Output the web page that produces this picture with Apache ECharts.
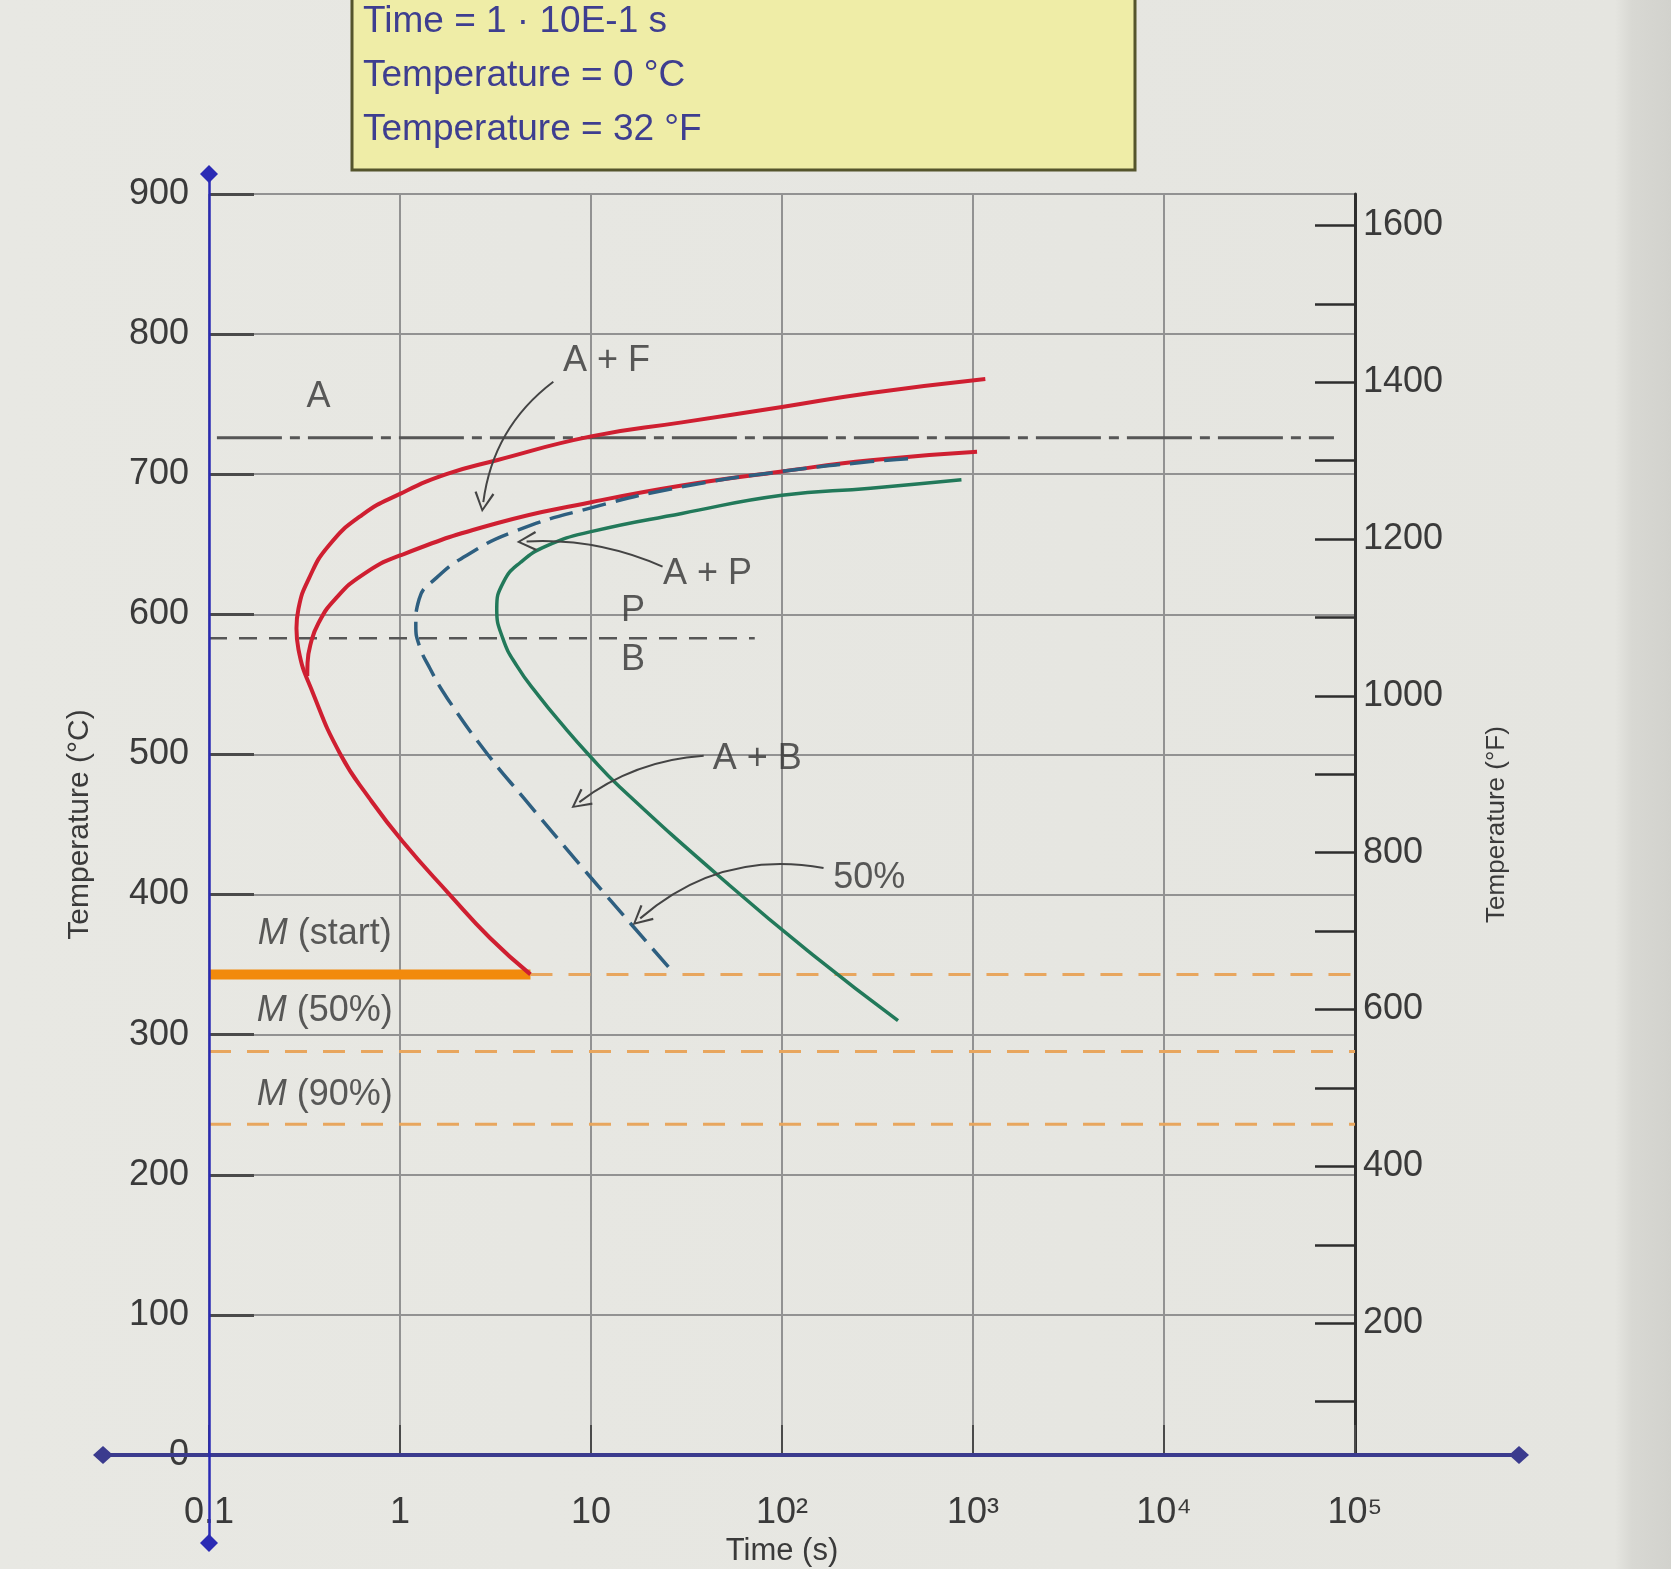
<!DOCTYPE html>
<html>
<head>
<meta charset="utf-8">
<title>TTT diagram</title>
<script src="https://cdn.jsdelivr.net/npm/echarts@6.0.0/dist/echarts.min.js"></script>
<style>
  html, body { margin: 0; padding: 0; }
  body { background: linear-gradient(to right, #e8e8e3 0, #e5e5e0 1615px, #d8d8d3 1632px, #d2d2cd 1671px); }
  #ttt { width: 1671px; height: 1569px; }
</style>
</head>
<body>
<div id="ttt"></div>
<script>
// axes
var timeTicks = [0.1, 1, 10, 100, 1000, 10000, 100000];
var timeTickLabels = ['0.1', '1', '10', '10²', '10³', '10⁴', '10⁵'];
var tempFTicks = [100, 200, 300, 400, 500, 600, 700, 800, 900, 1000, 1100, 1200, 1300, 1400, 1500, 1600];
var tempFLabels = [200, 400, 600, 800, 1000, 1200, 1400, 1600];

// curves: [time (s), temperature (°C)]
var ferriteStart = [[1160, 768], [291, 758], [100, 748], [29.9, 737], [10, 727], [3.21, 710], [1.75, 700],
  [1.0, 686], [0.634, 671], [0.423, 649], [0.332, 625], [0.294, 604], [0.287, 590], [0.294, 575],
  [0.352, 543], [0.488, 500], [0.689, 469], [1.03, 438], [1.82, 400], [2.96, 369], [4.82, 343]];
var ferriteEnd = [[1050, 716], [291, 710], [100, 702], [29.9, 692], [10, 680], [3.21, 665], [1.0, 642],
  [0.634, 628], [0.459, 611], [0.375, 594], [0.339, 578], [0.328, 565], [0.327, 556]];
var pearlite50 = [[457, 711], [291, 709], [100, 702], [29.9, 691], [10, 676], [3.94, 659], [2.23, 642],
  [1.55, 626], [1.26, 611], [1.21, 592], [1.26, 578], [1.44, 561], [1.77, 540], [2.88, 500],
  [4.44, 469], [10, 412], [16.2, 379], [27.5, 343]];
var transformEnd = [[870, 696], [291, 690], [100, 685], [29.9, 672], [10, 659], [5.9, 649], [4.27, 637],
  [3.48, 623], [3.21, 604], [3.45, 583], [4.1, 563], [5.31, 542], [7.2, 520], [9.7, 500], [14.1, 477],
  [52.7, 407], [145, 357], [405, 310]];

// horizontal lines (°C)
var msTemp = 343, m50Temp = 288, m90Temp = 236;
var a1Temp = 726, a1Span = [0.11, 77600];
var pbTemp = 583, pbEnd = 72;

// region labels
var regionNames = ['A', 'A + F', 'A + P', 'P', 'B', 'A + B', '50%', 'M (start)', 'M (50%)', 'M (90%)'];
var regionTimes = [0.374, 12.05, 40.7, 16.6, 16.6, 74.3, 286, 0.404, 0.404, 0.404];
var regionTemps = [755, 781, 629, 602, 567, 497, 412, 372, 317, 257];

// pointer arrows: from label to region
var arrowFrom = [[6.35, 766], [23.7, 634], [38.9, 499], [165, 419]];
var arrowTo = [[2.73, 680], [4.6, 652], [8.69, 466], [18.1, 383]];
var arrowBend = [-0.21, -0.12, -0.15, -0.24];

var FONT = '"Liberation Sans", Arial, sans-serif';
var TXT = '#3a3a3a';

var chart = echarts.init(document.getElementById('ttt'));

var tMin = timeTicks[0], tMax = timeTicks[timeTicks.length - 1];
var msEndT = ferriteStart[ferriteStart.length - 1][0];

function curve(name, data, color, width, type) {
  return {
    name: name, type: 'line', data: data, smooth: 0.5, showSymbol: false, symbol: 'none',
    xAxisIndex: 0, yAxisIndex: 0,
    lineStyle: { color: color, width: width, type: type || 'solid' }, z: 3
  };
}
function hline(t0, t1, temp, color, width, type) {
  return {
    type: 'line', data: [[t0, temp], [t1, temp]], showSymbol: false, symbol: 'none',
    xAxisIndex: 0, yAxisIndex: 0,
    lineStyle: { color: color, width: width, type: type, cap: 'butt' }, z: 2
  };
}

var option = {
  animation: false,
  backgroundColor: 'transparent',
  textStyle: { fontFamily: FONT },
  grid: [
    { left: 209, right: 316, top: 194, bottom: 114, outerBoundsMode: 'none' },
    { left: 103, right: 152, top: 194, bottom: 114, outerBoundsMode: 'none' },
    { left: 209, width: 20, top: 174, bottom: 26, outerBoundsMode: 'none' }
  ],
  xAxis: [
    {
      gridIndex: 0, type: 'log', logBase: 10, min: tMin, max: tMax,
      axisLine: { show: false },
      axisTick: { show: true, inside: true, length: 30, lineStyle: { color: '#4a4a4a', width: 2 } },
      splitLine: { show: true, lineStyle: { color: '#929292', width: 2 } },
      axisLabel: {
        fontSize: 36, color: TXT, margin: 40, fontFamily: FONT,
        formatter: function (v) {
          var i = Math.round(Math.log(v) / Math.LN10) + 1;
          return timeTickLabels[i] || '';
        }
      },
      name: 'Time (s)', nameLocation: 'middle', nameGap: 81, nameMoveOverlap: false,
      nameTextStyle: { fontSize: 31, color: TXT, fontFamily: FONT }
    },
    {
      gridIndex: 1, type: 'value', min: 0, max: 1, z: 4,
      axisLine: { show: true, onZero: false, symbol: ['diamond', 'diamond'], symbolSize: [18, 20],
        lineStyle: { color: '#3b3b8e', width: 4 } },
      axisTick: { show: false }, axisLabel: { show: false }, splitLine: { show: false }
    },
    { gridIndex: 2, type: 'value', min: 0, max: 1, show: false }
  ],
  yAxis: [
    {
      gridIndex: 0, type: 'value', min: 0, max: 900, interval: 100,
      axisLine: { show: false },
      axisTick: { show: true, inside: true, length: 45, lineStyle: { color: '#4a4a4a', width: 3 } },
      splitLine: { show: true, lineStyle: { color: '#929292', width: 2 } },
      axisLabel: { fontSize: 36, color: TXT, margin: 20, fontFamily: FONT },
      name: 'Temperature (°C)', nameLocation: 'middle', nameGap: 114, nameMoveOverlap: false,
      nameTextStyle: { fontSize: 30, color: TXT, fontFamily: FONT }
    },
    {
      gridIndex: 0, type: 'value', position: 'right', min: 32, max: 1640,
      axisLine: { show: true, onZero: false, lineStyle: { color: '#2e2e2e', width: 3 } },
      axisTick: { show: true, inside: true, length: 40, customValues: tempFTicks,
        lineStyle: { color: '#2e2e2e', width: 2.5 } },
      axisLabel: { customValues: tempFLabels, fontSize: 36, color: TXT, margin: 8, fontFamily: FONT,
        formatter: function (v) { return String(v); } },
      splitLine: { show: false },
      name: 'Temperature (°F)', nameLocation: 'middle', nameGap: 129, nameRotate: 90, nameMoveOverlap: false,
      nameTextStyle: { fontSize: 26, color: TXT, fontFamily: FONT }
    },
    { gridIndex: 1, type: 'value', min: 0, max: 1, show: false },
    {
      gridIndex: 2, type: 'value', min: 0, max: 1, z: 5,
      axisLine: { show: true, onZero: false, symbol: ['diamond', 'diamond'], symbolSize: [18, 18],
        lineStyle: { color: '#2a2ab4', width: 2.5 } },
      axisTick: { show: false }, axisLabel: { show: false }, splitLine: { show: false }
    }
  ],
  graphic: [
    { type: 'rect', x: 352, y: -6, shape: { width: 783, height: 176 },
      style: { fill: '#efeda7', stroke: '#55552c', lineWidth: 3 }, z: 10 },
    { type: 'text', x: 363, y: -5, z: 11,
      style: { text: 'Time = 1 · 10E-1 s\nTemperature = 0 °C\nTemperature = 32 °F',
        fill: '#3e3e90', font: '37px ' + FONT, lineHeight: 54 } }
  ],
  series: [
    hline(a1Span[0], a1Span[1], a1Temp, '#565656', 3, [65, 8, 10, 8]),
    hline(tMin, pbEnd, pbTemp, '#565656', 2.5, [18, 12]),
    hline(msEndT, tMax, msTemp, '#e8a65e', 3, [22, 16]),
    hline(tMin, tMax, m50Temp, '#e8a65e', 3, [22, 16]),
    hline(tMin, tMax, m90Temp, '#e8a65e', 3, [22, 16]),
    hline(tMin, msEndT, msTemp, '#f28a0c', 10, 'solid'),
    curve('ferrite start', ferriteStart, '#cf1f31', 4),
    curve('ferrite end', ferriteEnd, '#cf1f31', 4),
    curve('finish', transformEnd, '#22795a', 3.5),
    curve('50%', pearlite50, '#2e5f80', 3.5, [24, 10]),
    {
      type: 'lines', coordinateSystem: 'cartesian2d', xAxisIndex: 0, yAxisIndex: 0, z: 4,
      symbol: ['none', 'path://M0,0 L7,14 L5.6,14.8 L0,3 L-5.6,14.8 L-7,14 Z'],
      symbolSize: [14, 20],
      lineStyle: { color: '#444', width: 2, opacity: 1 },
      data: arrowFrom.map(function (f, i) {
        return { coords: [f, arrowTo[i]], lineStyle: { curveness: arrowBend[i] } };
      })
    },
    {
      type: 'scatter', xAxisIndex: 0, yAxisIndex: 0, symbolSize: 0, z: 5,
      data: regionNames.map(function (n, i) { return { name: n, value: [regionTimes[i], regionTemps[i]] }; }),
      label: {
        show: true, position: 'inside', fontSize: 36, color: '#333', fontFamily: FONT,
        formatter: function (p) {
          var n = p.name;
          return n.charAt(0) === 'M' ? '{i|M}' + n.slice(1) : n;
        },
        rich: { i: { fontStyle: 'italic', fontSize: 36, color: '#333', fontFamily: FONT } }
      }
    }
  ]
};

chart.setOption(option);
</script>
</body>
</html>
